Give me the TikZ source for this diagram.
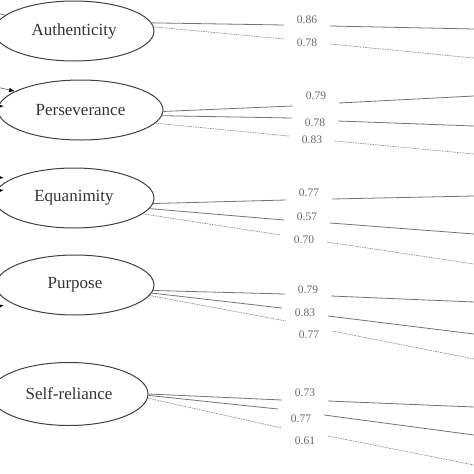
\documentclass[tikz,border=0pt]{standalone}
\usepackage{fontspec}
\setmainfont{Liberation Serif}
\usetikzlibrary{arrows.meta,shapes.geometric}

\tikzset{
  factor/.style={ellipse, draw=black!75, line width=1pt, inner sep=0pt,
    font=\fontsize{17}{20}\selectfont, text=black!80},
  loading/.style={inner sep=0pt, minimum width=46pt, minimum height=10pt,
    font=\fontsize{11.5}{13}\selectfont, text=black!60},
  link/.style={draw=black!55, line width=0.8pt},
  fine dash/.style={draw=black!45, line width=0.7pt, dash pattern=on 1.5pt off 1pt},
  corr/.style={draw=black!55, line width=0.7pt,
    -{Latex[length=6pt,width=4.5pt,color=black]}},
}

\begin{document}
\begin{tikzpicture}[x=1pt,y=-1pt]
    \useasboundingbox (0,0) rectangle (474,474);
    \clip (0,0) rectangle (474,474);

    % Factor ellipses
    \node[factor, minimum width=160pt, minimum height=60pt] (auth) at (74,31) {Authenticity};
    \node[factor, minimum width=165pt, minimum height=60pt] (pers) at (80.5,110) {Perseverance};
    \node[factor, minimum width=160pt, minimum height=60pt] (equa) at (74,198) {Equanimity};
    \node[factor, minimum width=158pt, minimum height=60pt] (purp) at (75,285) {Purpose};
    \node[factor, minimum width=158pt, minimum height=63pt] (self) at (69,394) {Self-reliance};

    % Loadings (lines run on past the right edge)
    \foreach \src/\ang/\lx/\ly/\val/\dl/\dr/\ey/\sty [count=\i] in {
        auth/6/307/20/0.86/-5/-6/29/solid,
        auth/3/307/43/0.78/4/-1/58/fine dash,
        pers/-1/316/96/0.79/-10/-7/96/solid,
        pers/-4/315/123/0.78/5/2/126/solid,
        pers/-10/312/140/0.83/4/-1/154/fine dash,
        equa/-4/309/193/0.77/-7/-6/196/solid,
        equa/-8/307/217/0.57/-3/-6/234/solid,
        equa/-13/304/240/0.70/5/-2/264/fine dash,
        purp/-4/308/290/0.79/-4/-6/302/solid,
        purp/-6/305/313/0.83/5/-3/334/solid,
        purp/-8/309/335/0.77/14/4/359/fine dash,
        self/0/305/393/0.73/-7/-8/407/solid,
        self/-1/301/419/0.77/10/4/435/solid,
        self/-3/305/441/0.61/13/5/465/fine dash} {
        \node[loading] (v\i) at (\lx,\ly) {\val};
        \coordinate (t\i) at (474,\ey);
        \draw[link,\sty] (\src.\ang) -- ([yshift=\dl]v\i.west);
        \draw[link,\sty] ([yshift=\dr]v\i.east) -- (t\i);
    }

    % Covariance arrows, cut off at the left
    \coordinate (c1) at (-8,12);
    \draw[corr,-] (c1) -- (auth.167);
    \coordinate (c2) at (-8,86);
    \draw[corr] (c2) -- (pers.164);
    \foreach \from/\to [count=\j] in {107/106,176/178,192/190,309/305} {
        \coordinate (s\j) at (-12,\from);
        \coordinate (h\j) at (4,\to);
        \draw[corr] (s\j) -- (h\j);
    }
\end{tikzpicture}
\end{document}
